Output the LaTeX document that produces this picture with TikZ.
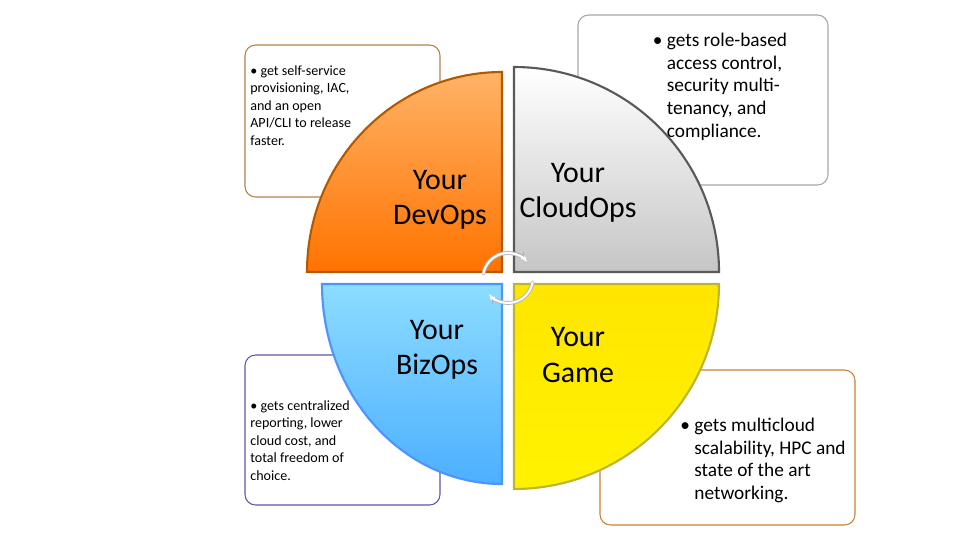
\documentclass[tikz,border=0pt]{standalone}
\usepackage{fontspec}
\setmainfont{Carlito}
\usetikzlibrary{positioning,arrows.meta}
\begin{document}
\begin{tikzpicture}
		[line cap=round,
		%Styles
		note box/.style={draw=#1,rounded corners=6pt,fill=white,line width=0.6pt},
		note text/.style={align=left,anchor=north west,inner sep=0pt},
		quarter/.style={draw=#1,line width=1.2pt},
		big label/.style={align=center,font=\fontsize{17}{20}\selectfont}
		]
		
		%Frame
		\useasboundingbox (0,0) rectangle (19.6,-11.02);
		\coordinate (c) at (10.16,-5.56);
		
		%Note boxes
		\draw[note box=orange!40!gray] (4.9,-0.9) rectangle (8.8,-3.94);
		\draw[note box=gray!70] (11.56,-0.3) rectangle (16.56,-3.7);
		\draw[note box=blue!30!gray] (4.9,-7.1) rectangle (8.8,-10.1);
		\draw[note box=orange!60!gray] (12,-7.4) rectangle (17.1,-10.5);
		
		%Quarters
		\shade[quarter=orange!70!black,top color=orange!60,bottom color=orange!90!red] ([shift={(-0.12,0.12)}]c) -- ++(180:3.9) arc (180:90:3.9 and 4.0) -- cycle;
		\shade[quarter=gray!70!black,top color=white,bottom color=gray!45] ([shift={(0.12,0.12)}]c) -- ++(0:4.1) arc (0:90:4.1) -- cycle;
		\shade[quarter=blue!60!cyan!70,top color=blue!30!cyan!45,bottom color=blue!45!cyan!70] ([shift={(-0.12,-0.12)}]c) -- ++(180:3.6) arc (180:270:3.6 and 4.0) -- cycle;
		\shade[quarter=yellow!70!black,top color=yellow!80!orange,bottom color=yellow!90!orange] ([shift={(0.12,-0.12)}]c) -- ++(0:4.1) arc (0:-90:4.1) -- cycle;
		
		%Center arrows
		\draw[gray!60,line width=2.2pt,-{Stealth[length=6pt]}] ([shift={(170:0.5)}]c) arc (170:40:0.5);
		\draw[white,line width=1.2pt,-{Stealth[length=4pt]}] ([shift={(170:0.5)}]c) arc (170:40:0.5);
		\draw[gray!60,line width=2.2pt,-{Stealth[length=6pt]}] ([shift={(-10:0.5)}]c) arc (-10:-140:0.5);
		\draw[white,line width=1.2pt,-{Stealth[length=4pt]}] ([shift={(-10:0.5)}]c) arc (-10:-140:0.5);
		
		%Labels
		\node[big label] (devops) at (8.8,-4.0) {Your\\DevOps};
		\node[big label] (cloudops) at (11.56,-3.85) {Your\\CloudOps};
		\node[big label] (bizops) at (8.74,-7.0) {Your\\BizOps};
		\node[big label] (game) at (11.56,-7.1) {Your\\Game};
		
		\node[note text,font=\fontsize{8}{10}\selectfont] (devtxt) at (5.0,-1.3)
			{\textbullet\ get self-service\\provisioning, IAC,\\and an open\\API/CLI to release\\faster.};
		\node[note text,font=\fontsize{11}{13}\selectfont] (cloudtxt) at (13.05,-0.65)
			{\textbullet\ gets role-based\\\phantom{\textbullet\ }access control,\\\phantom{\textbullet\ }security multi-\\\phantom{\textbullet\ }tenancy, and\\\phantom{\textbullet\ }compliance.};
		\node[note text,font=\fontsize{8}{10}\selectfont] (biztxt) at (5.0,-8.0)
			{\textbullet\ gets centralized\\reporting, lower\\cloud cost, and\\total freedom of\\choice.};
		\node[note text,font=\fontsize{11}{13}\selectfont] (gametxt) at (13.6,-8.35)
			{\textbullet\ gets multicloud\\\phantom{\textbullet\ }scalability, HPC and\\\phantom{\textbullet\ }state of the art\\\phantom{\textbullet\ }networking.};
	\end{tikzpicture}
\end{document}
